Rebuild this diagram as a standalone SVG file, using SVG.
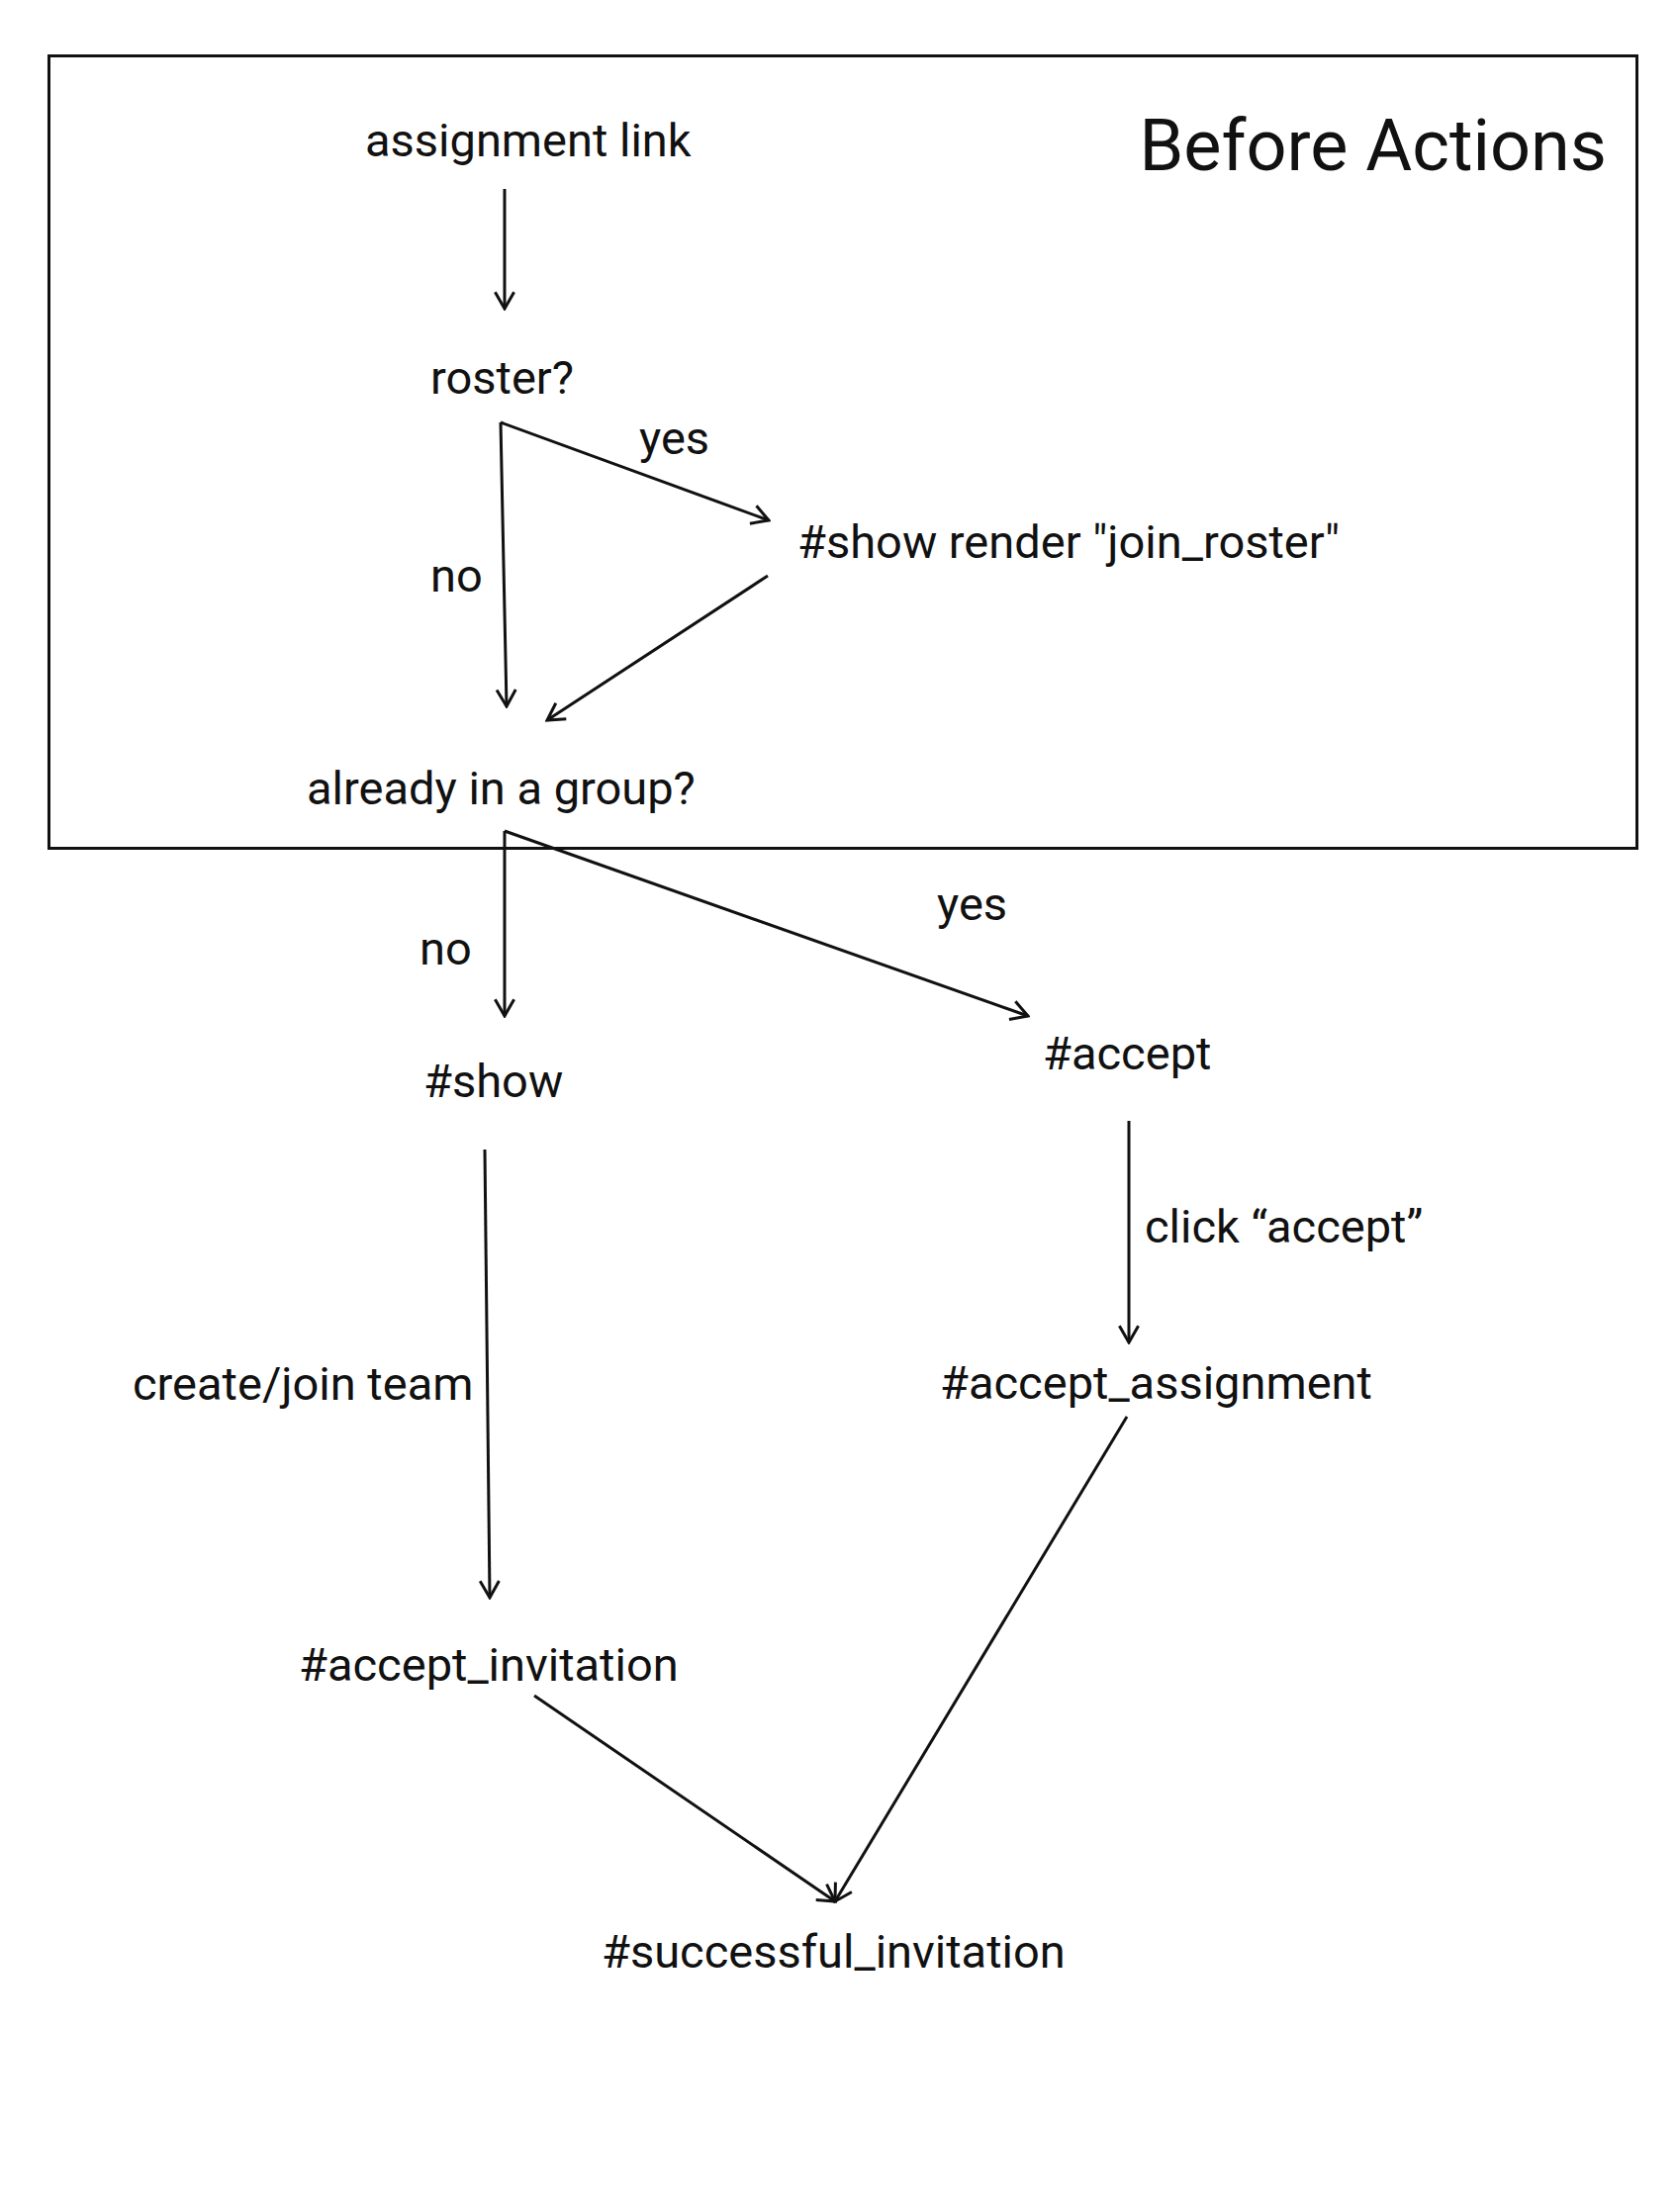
<svg xmlns="http://www.w3.org/2000/svg" width="1696" height="2236" viewBox="0 0 1696 2236">
<style>
text{font-family:Roboto,"Liberation Sans",sans-serif;font-size:47px;fill:#111}
.c line{stroke:#111;stroke-width:3;fill:none;marker-end:url(#a)}
</style>
<defs><marker id="a" viewBox="0 0 20 20" refX="18" refY="10" markerWidth="8" markerHeight="8" orient="auto" markerUnits="strokeWidth"><path d="M4 2 L18 10 L4 18" fill="none" stroke="#111" stroke-width="2.5"/></marker></defs>
<rect width="1696" height="2236" fill="#fff"/>
<g id="frame"><rect x="49.5" y="56.5" width="1605" height="801" fill="none" stroke="#111" stroke-width="3"/><text x="1624" y="172" text-anchor="end" style="font-size:72px">Before Actions</text></g>
<g class="c" id="connectors">
<line x1="510" y1="191" x2="510" y2="312"/>
<line x1="506" y1="427" x2="777" y2="526"/>
<line x1="506" y1="427" x2="512" y2="714"/>
<line x1="776" y1="582" x2="553" y2="728"/>
<line x1="510" y1="840" x2="510" y2="1027"/>
<line x1="510" y1="840" x2="1039" y2="1027"/>
<line x1="1141" y1="1133" x2="1141" y2="1357"/>
<line x1="490" y1="1162" x2="495" y2="1615"/>
<line x1="540" y1="1714" x2="844" y2="1922"/>
<line x1="1139" y1="1432" x2="844" y2="1922"/>
</g>
<g id="labels">
<text x="646" y="459">yes</text><text x="435" y="598">no</text>
<text x="424" y="975">no</text><text x="947" y="930">yes</text>
<text x="1157" y="1256">click “accept”</text>
<text x="134" y="1415">create/join team</text>
</g>
<g id="n1"><text x="369" y="158">assignment link</text></g>
<g id="n2"><text x="435" y="398">roster?</text></g>
<g id="n3"><text x="806" y="564">#show render "join_roster"</text></g>
<g id="n4"><text x="310" y="813">already in a group?</text></g>
<g id="n5"><text x="428" y="1109">#show</text></g>
<g id="n6"><text x="1054" y="1081">#accept</text></g>
<g id="n7"><text x="950" y="1414">#accept_assignment</text></g>
<g id="n8"><text x="302" y="1699">#accept_invitation</text></g>
<g id="n9"><text x="608" y="1989">#successful_invitation</text></g>
</svg>
